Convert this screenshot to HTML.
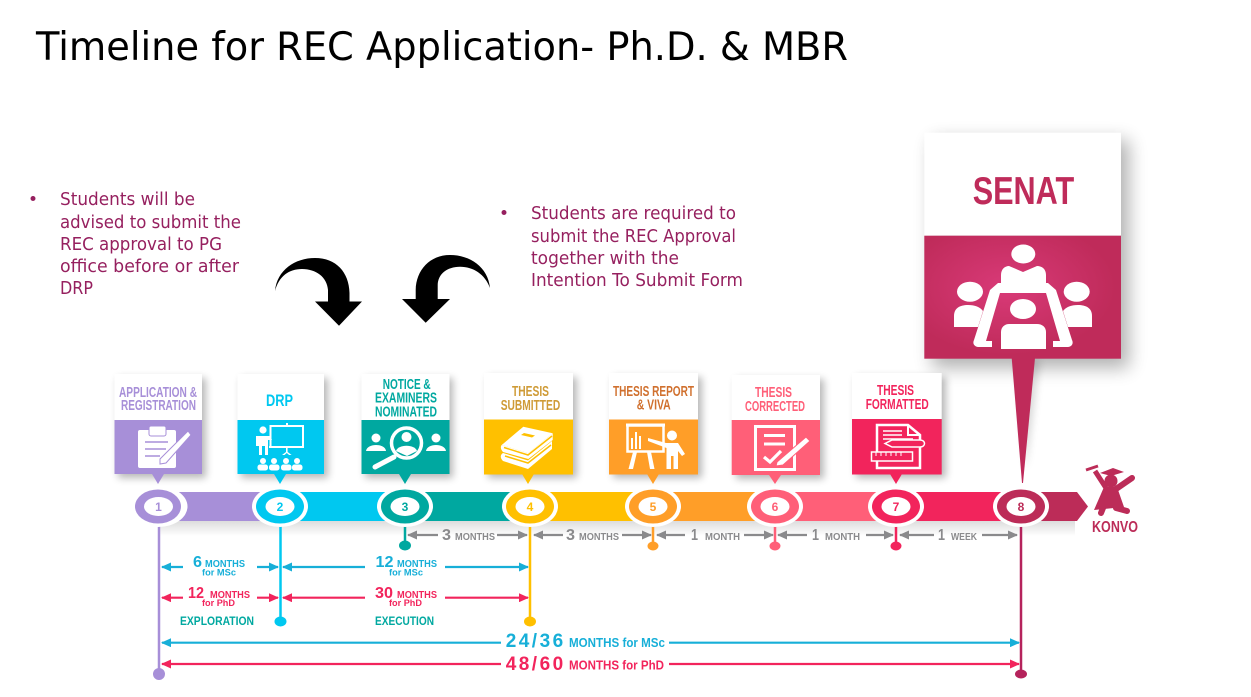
<!DOCTYPE html>
<html><head><meta charset="utf-8"><style>
html,body{margin:0;padding:0;background:#fff;width:1251px;height:697px;overflow:hidden}
svg{display:block}
text{font-family:"Liberation Sans",sans-serif}
text.d{font-family:"DejaVu Sans",sans-serif}
.c{font-weight:bold}
</style></head><body>
<svg width="1251" height="697" viewBox="0 0 1251 697" xmlns="http://www.w3.org/2000/svg">
<defs>
<filter id="sh" x="-30%" y="-30%" width="170%" height="170%"><feGaussianBlur stdDeviation="4"/></filter>
<filter id="shb" x="-30%" y="-30%" width="170%" height="170%"><feGaussianBlur stdDeviation="9"/></filter>
<linearGradient id="bs" x1="0" y1="0" x2="0" y2="1"><stop offset="0" stop-color="#ddd"/><stop offset="1" stop-color="#fff"/></linearGradient>
<radialGradient id="sg" cx="0.42" cy="0.42" r="0.55"><stop offset="0" stop-color="#d93a78"/><stop offset="1" stop-color="#bf2b5a"/></radialGradient>
<marker id="ag" markerWidth="10" markerHeight="9" refX="9" refY="4.5" orient="auto-start-reverse" markerUnits="userSpaceOnUse"><path d="M0 0L10 4.5L0 9Z" fill="#8a8a8c"/></marker>
<marker id="ab" markerWidth="10" markerHeight="9" refX="9" refY="4.5" orient="auto-start-reverse" markerUnits="userSpaceOnUse"><path d="M0 0L10 4.5L0 9Z" fill="#17afd8"/></marker>
<marker id="ar" markerWidth="10" markerHeight="9" refX="9" refY="4.5" orient="auto-start-reverse" markerUnits="userSpaceOnUse"><path d="M0 0L10 4.5L0 9Z" fill="#f2245c"/></marker>
</defs>

<!-- Title -->
<text class="d" x="36" y="60" font-size="39" fill="#000" textLength="812" lengthAdjust="spacingAndGlyphs">Timeline for REC Application- Ph.D. &amp; MBR</text>

<!-- Bullets -->
<g font-size="17.5" fill="#96205f">
<circle cx="33" cy="198.500" r="2.500" fill="#96205f"/>
<text class="d" x="60" y="205" textLength="135" lengthAdjust="spacingAndGlyphs">Students will be</text>
<text class="d" x="60" y="228" textLength="181" lengthAdjust="spacingAndGlyphs">advised to submit the</text>
<text class="d" x="60" y="250" textLength="162" lengthAdjust="spacingAndGlyphs">REC approval to PG</text>
<text class="d" x="60" y="272" textLength="179" lengthAdjust="spacingAndGlyphs">office before or after</text>
<text class="d" x="60" y="294" textLength="33" lengthAdjust="spacingAndGlyphs">DRP</text>
<circle cx="504" cy="212.500" r="2.500" fill="#96205f"/>
<text class="d" x="531" y="219" textLength="205" lengthAdjust="spacingAndGlyphs">Students are required to</text>
<text class="d" x="531" y="242" textLength="205" lengthAdjust="spacingAndGlyphs">submit the REC Approval</text>
<text class="d" x="531" y="264" textLength="148" lengthAdjust="spacingAndGlyphs">together with the</text>
<text class="d" x="531" y="286" textLength="212" lengthAdjust="spacingAndGlyphs">Intention To Submit Form</text>
</g>

<!-- Curved arrows -->
<path d="M275 291C277 270 295 258 315 258C336 258 349 272 349.500 293L349.500 301.500L362 301.500L339 325.700L315 301.500L328 301.500L328 290C327 277 316 269 302 269C289 269 279 276 275 291Z" fill="#000"/>
<path d="M490 288C488 267 470 255 450 255C430 255 416 270 415.700 290L415.700 299L402 299L425.700 322.700L450 299L437.700 299L437.700 285C438 274 447 266.700 460 266.700C473 266.700 485 274 490 288Z" fill="#000"/>

<!-- Band shadow -->
<rect x="160" y="521" width="915" height="15" fill="url(#bs)"/>

<!-- Band -->
<rect x="158" y="492" width="122" height="29" fill="#a78fd8"/>
<rect x="280" y="492" width="125" height="29" fill="#00c8f0"/>
<rect x="405" y="492" width="125" height="29" fill="#00a8a0"/>
<rect x="530" y="492" width="123" height="29" fill="#ffc000"/>
<rect x="653" y="492" width="122" height="29" fill="#ff9e28"/>
<rect x="775" y="492" width="121" height="29" fill="#ff5f78"/>
<rect x="896" y="492" width="125" height="29" fill="#f2245c"/>
<path d="M1021 492H1077L1088 506.500L1077 521H1021Z" fill="#bc2c58"/>

<!-- Card shadows -->
<g fill="#000" opacity="0.28" filter="url(#sh)">
<rect x="118" y="378" width="88" height="100"/>
<rect x="241" y="378" width="87" height="100"/>
<rect x="365" y="378" width="88" height="100"/>
<rect x="488" y="377" width="89" height="101"/>
<rect x="613" y="377" width="89" height="101"/>
<rect x="736" y="379" width="88" height="100"/>
<rect x="856" y="377" width="90" height="101"/>
</g>
<rect x="932" y="140" width="197" height="228" fill="#000" opacity="0.3" filter="url(#shb)"/>
<path d="M1016 360H1040L1026 470Z" fill="#000" opacity="0.15" filter="url(#sh)"/>

<!-- Cards -->
<g>
<rect x="114.500" y="374" width="87.500" height="46" fill="#fff"/><rect x="114.500" y="420" width="87.500" height="54" fill="#a78fd8"/><path d="M152 474H164L158 484Z" fill="#a78fd8"/>
<rect x="237.500" y="374" width="86.500" height="46" fill="#fff"/><rect x="237.500" y="420" width="86.500" height="54" fill="#00c8f0"/><path d="M274 474H286L280 484Z" fill="#00c8f0"/>
<rect x="361.500" y="374" width="88" height="46" fill="#fff"/><rect x="361.500" y="420" width="88" height="54" fill="#00a8a0"/><path d="M399 474H411L405 484Z" fill="#00a8a0"/>
<rect x="484" y="373" width="89" height="46.500" fill="#fff"/><rect x="484" y="419.500" width="89" height="55" fill="#ffc000"/><path d="M522 474H534L528 484Z" fill="#ffc000"/>
<rect x="609" y="373" width="89" height="46.500" fill="#fff"/><rect x="609" y="419.500" width="89" height="55" fill="#ff9e28"/><path d="M647 474H659L653 484Z" fill="#ff9e28"/>
<rect x="731.700" y="375" width="88.300" height="45" fill="#fff"/><rect x="731.700" y="420" width="88.300" height="55" fill="#ff5f78"/><path d="M769 475H781L775 484Z" fill="#ff5f78"/>
<rect x="852" y="373" width="89.700" height="46" fill="#fff"/><rect x="852" y="419" width="89.700" height="55.500" fill="#f2245c"/><path d="M890 474H902L896 484Z" fill="#f2245c"/>
<rect x="924.300" y="132.700" width="196.700" height="103" fill="#fff"/>
<rect x="924.300" y="235.700" width="196.700" height="123" fill="url(#sg)"/>
<path d="M1011.700 358H1035L1023 483H1022Z" fill="#bf2b5a"/>
</g>

<!-- Card labels -->
<g class="c" font-size="14.500">
<text class="c" x="119" y="397" fill="#a78fd8" textLength="78" lengthAdjust="spacingAndGlyphs">APPLICATION &amp;</text>
<text class="c" x="121" y="410" fill="#a78fd8" textLength="75" lengthAdjust="spacingAndGlyphs">REGISTRATION</text>
<text class="c" x="266" y="406" fill="#00c8f0" font-size="17" textLength="27" lengthAdjust="spacingAndGlyphs">DRP</text>
<text class="c" x="382.700" y="389" fill="#00a8a0" textLength="48" lengthAdjust="spacingAndGlyphs">NOTICE &amp;</text>
<text class="c" x="375" y="402.700" fill="#00a8a0" textLength="62" lengthAdjust="spacingAndGlyphs">EXAMINERS</text>
<text class="c" x="375" y="416.700" fill="#00a8a0" textLength="62" lengthAdjust="spacingAndGlyphs">NOMINATED</text>
<text class="c" x="512" y="396" fill="#cf9b37" textLength="37" lengthAdjust="spacingAndGlyphs">THESIS</text>
<text class="c" x="500.700" y="410" fill="#cf9b37" textLength="59.500" lengthAdjust="spacingAndGlyphs">SUBMITTED</text>
<text class="c" x="613" y="396" fill="#d0702e" textLength="81" lengthAdjust="spacingAndGlyphs">THESIS REPORT</text>
<text class="c" x="636.700" y="409.500" fill="#d0702e" textLength="34" lengthAdjust="spacingAndGlyphs">&amp; VIVA</text>
<text class="c" x="755" y="397" fill="#ff5f78" textLength="37" lengthAdjust="spacingAndGlyphs">THESIS</text>
<text class="c" x="745" y="411" fill="#ff5f78" textLength="60" lengthAdjust="spacingAndGlyphs">CORRECTED</text>
<text class="c" x="877" y="395" fill="#f2245c" textLength="37" lengthAdjust="spacingAndGlyphs">THESIS</text>
<text class="c" x="865.700" y="409" fill="#f2245c" textLength="63" lengthAdjust="spacingAndGlyphs">FORMATTED</text>
<text class="c" x="972.700" y="204" fill="#bf2b5a" font-size="39" textLength="101.500" lengthAdjust="spacingAndGlyphs">SENAT</text>
</g>

<!-- Icon 1 -->
<g>
<rect x="138" y="430" width="38" height="38" rx="2" fill="#fff"/>
<rect x="149" y="426" width="17" height="10" rx="2" fill="#fff" stroke="#a78fd8" stroke-width="1"/>
<g stroke="#a78fd8" stroke-width="1.600"><path d="M145 442H168M145 449H166M145 456H160"/></g>
<path d="M160 459L188 431L191 435L166 463L160 464Z" fill="#fff" stroke="#a78fd8" stroke-width="1"/>
</g>
<!-- Icon 2 -->
<g fill="#fff">
<circle cx="263" cy="430" r="3.600"/>
<path d="M256 436H270L272 440H268V455H265V446H262V455H259V446H256Z"/>
<rect x="270.500" y="426" width="32.500" height="21" fill="none" stroke="#fff" stroke-width="2"/>
<path d="M269 446H304V448H269ZM286 423h2v3h-2ZM286 447h1.600v5l4 3h-2.500l-2.300-2-2.300 2h-2.500l4-3Z"/>
<circle cx="263" cy="461" r="3"/><circle cx="274" cy="461" r="3"/><circle cx="286" cy="461" r="3"/><circle cx="297" cy="461" r="3"/>
<rect x="257.500" y="464.500" width="10.500" height="6" rx="2.500"/><rect x="269" y="464.500" width="10.500" height="6" rx="2.500"/><rect x="281" y="464.500" width="10.500" height="6" rx="2.500"/><rect x="292" y="464.500" width="10.500" height="6" rx="2.500"/>
</g>
<!-- Icon 3 -->
<g fill="#fff">
<circle cx="406.500" cy="443" r="15" fill="none" stroke="#fff" stroke-width="3.500"/>
<path d="M394 457L375 467" stroke="#fff" stroke-width="5" stroke-linecap="round"/>
<circle cx="406.500" cy="437" r="5"/><path d="M396 451C398 444 415 444 417 451L407 456Z"/>
<circle cx="376" cy="438" r="4.500"/><path d="M366 451C367 443 385 443 386 451Z"/>
<circle cx="436" cy="438" r="4.500"/><path d="M426 451C427 443 445 443 446 451Z"/>
</g>
<!-- Icon 4 -->
<g>
<path d="M523.300 426.700L552.700 433.300L528.300 453.300L501.700 445Z" fill="#fff"/>
<path d="M501.700 445L528.300 453.300L552.700 433.300V440L528.300 459L503 452C501 450 500 447 501.700 445Z" fill="#fff"/>
<path d="M504 447.500L528 455L552 436" stroke="#ffc000" stroke-width="1.500" fill="none"/>
<path d="M503 453L528 460.500L552 441V449L528 469L503 461C500 458 500 455 503 453Z" fill="#fff"/>
<path d="M505 456L528 463L551 445" stroke="#ffc000" stroke-width="1.500" fill="none"/>
<path d="M524 433L535 435.500L532 437.500L521 435Z" fill="#ffc000"/>
</g>
<!-- Icon 5 -->
<g fill="#fff">
<rect x="627.500" y="425.500" width="36" height="26" fill="none" stroke="#fff" stroke-width="2.500"/>
<rect x="626" y="423.500" width="39" height="3"/>
<rect x="631" y="438" width="2" height="11"/><rect x="635" y="432" width="2" height="17"/><rect x="639" y="436" width="2" height="13"/>
<path d="M633 452h4l-4 17h-4.500ZM651 452h-4l3 17h4.500Z"/>
<circle cx="672" cy="435.500" r="5"/>
<path d="M648 438L666 443H678L685 454L682 456L678 451V469H673.500V456H671V469H666.500V448L648 441Z"/>
</g>
<!-- Icon 6 -->
<g>
<rect x="755.500" y="426.500" width="39" height="43" fill="none" stroke="#fff" stroke-width="3"/>
<path d="M764 435.500H785M764 444H785" stroke="#fff" stroke-width="3"/>
<path d="M764 457L770 462L781 451" fill="none" stroke="#fff" stroke-width="3.200"/>
<path d="M777 462L806 437L810 441L783 465L776 466Z" fill="#fff" stroke="#ff5f78" stroke-width="1"/>
</g>
<!-- Icon 7 -->
<g>
<path d="M877 425H908L920 435V468H877Z" fill="none" stroke="#fff" stroke-width="2.500"/>
<path d="M908 425V435H920" fill="none" stroke="#fff" stroke-width="2"/>
<path d="M883 431H902M883 435H902M883 439H913" stroke="#fff" stroke-width="1.500"/>
<path d="M885 443.500L892 440H920C926 440 926 447 920 447H892Z" fill="#f2245c" stroke="#fff" stroke-width="1.500"/>
<rect x="871.500" y="452" width="41" height="9" fill="#f2245c" stroke="#fff" stroke-width="1.500"/>
<path d="M876 452V456M881 452V456M886 452V456M891 452V456M896 452V456M901 452V456" stroke="#fff" stroke-width="1"/>
</g>
<!-- Senat icon -->
<g fill="#fff">
<ellipse cx="1023.300" cy="254" rx="12" ry="9.500"/>
<path d="M1001 284V275C1001 269 1005 266 1009 266L1023 272L1037 266C1042 266 1046 269 1046 275V284Z"/>
<ellipse cx="970" cy="291.700" rx="13" ry="10"/>
<ellipse cx="1076.700" cy="291.700" rx="13" ry="10"/>
<path d="M954 327V316C954 308 960 305 968 305C975 305 980 307 983 311L978 327Z"/>
<path d="M1092 327V316C1092 308 1086 305 1078 305C1071 305 1066 307 1063 311L1068 327Z"/>
<path d="M998 283H1048L1056 290L1072 340C1074 344 1071 347 1068 347H1053V341H1060L1046 293H1000L986 341H992V347H979C975 347 972 344 974 340L990 290Z"/>
<ellipse cx="1023" cy="309" rx="13" ry="10"/>
<path d="M1001 349V332C1001 327 1005 324 1009 324H1037C1042 324 1046 327 1046 332V349Z"/>
</g>

<!-- Vertical drop lines -->
<g stroke-width="2.500" fill="none">
<line x1="159" y1="515" x2="159" y2="673" stroke="#a78fd8"/>
<line x1="280.500" y1="515" x2="280.500" y2="620" stroke="#00c8f0"/>
<line x1="405" y1="515" x2="405" y2="545" stroke="#00a8a0"/>
<line x1="530" y1="515" x2="530" y2="620" stroke="#ffc000"/>
<line x1="653" y1="515" x2="653" y2="546" stroke="#ff9e28"/>
<line x1="775" y1="515" x2="775" y2="546" stroke="#ff5f78"/>
<line x1="896" y1="515" x2="896" y2="546" stroke="#f2245c"/>
<line x1="1021" y1="515" x2="1021" y2="673" stroke="#b5235c"/>
</g>
<circle cx="159" cy="674" r="6" fill="#a78fd8"/>
<ellipse cx="280.500" cy="621.500" rx="6" ry="5" fill="#00c8f0"/>
<ellipse cx="405" cy="545.500" rx="6" ry="5" fill="#00a8a0"/>
<ellipse cx="530" cy="621.500" rx="6" ry="5" fill="#ffc000"/>
<ellipse cx="653" cy="546" rx="5.500" ry="4.500" fill="#ff9e28"/>
<ellipse cx="775" cy="546" rx="5.500" ry="4.500" fill="#ff5f78"/>
<ellipse cx="896" cy="546" rx="5.500" ry="4.500" fill="#f2245c"/>
<ellipse cx="1021" cy="674" rx="6" ry="4.500" fill="#b5235c"/>

<!-- Circles -->
<g>
<ellipse cx="158" cy="506.500" rx="29.500" ry="20.500" fill="#fff"/><ellipse cx="158" cy="506.500" rx="23" ry="17" fill="#a78fd8"/><ellipse cx="158.500" cy="506.500" rx="14.500" ry="9.500" fill="#fff"/>
<ellipse cx="280" cy="506.500" rx="28" ry="20.500" fill="#fff"/><ellipse cx="280" cy="506.500" rx="24" ry="17" fill="#00c8f0"/><ellipse cx="280" cy="506.500" rx="14.500" ry="9.500" fill="#fff"/>
<ellipse cx="405" cy="506.500" rx="28" ry="20.500" fill="#fff"/><ellipse cx="405" cy="506.500" rx="24" ry="17" fill="#00a8a0"/><ellipse cx="405" cy="506.500" rx="14.500" ry="9.500" fill="#fff"/>
<ellipse cx="530" cy="506.500" rx="28" ry="20.500" fill="#fff"/><ellipse cx="530" cy="506.500" rx="24" ry="17" fill="#ffc000"/><ellipse cx="530" cy="506.500" rx="14.500" ry="9.500" fill="#fff"/>
<ellipse cx="653" cy="506.500" rx="28" ry="20.500" fill="#fff"/><ellipse cx="653" cy="506.500" rx="24" ry="17" fill="#ff9e28"/><ellipse cx="653" cy="506.500" rx="14.500" ry="9.500" fill="#fff"/>
<ellipse cx="775" cy="506.500" rx="28" ry="20.500" fill="#fff"/><ellipse cx="775" cy="506.500" rx="24" ry="17" fill="#ff5f78"/><ellipse cx="775" cy="506.500" rx="14.500" ry="9.500" fill="#fff"/>
<ellipse cx="896" cy="506.500" rx="28" ry="20.500" fill="#fff"/><ellipse cx="896" cy="506.500" rx="24" ry="17" fill="#f2245c"/><ellipse cx="896" cy="506.500" rx="14.500" ry="9.500" fill="#fff"/>
<ellipse cx="1021" cy="506.500" rx="28" ry="20.500" fill="#fff"/><ellipse cx="1021" cy="506.500" rx="24" ry="17" fill="#bc2c58"/><ellipse cx="1021" cy="506.500" rx="14.500" ry="9.500" fill="#fff"/>
</g>
<g class="c" font-size="12" text-anchor="middle">
<text class="c" x="158.500" y="511" fill="#a78fd8">1</text>
<text class="c" x="280" y="511" fill="#00c8f0">2</text>
<text class="c" x="405" y="511" fill="#00a8a0">3</text>
<text class="c" x="530" y="511" fill="#ffc000">4</text>
<text class="c" x="653" y="511" fill="#ff9e28">5</text>
<text class="c" x="775" y="511" fill="#ff5f78">6</text>
<text class="c" x="896" y="511" fill="#f2245c">7</text>
<text class="c" x="1021" y="511" fill="#bc2c58">8</text>
</g>

<!-- Grey intervals -->
<g stroke="#8a8a8c" stroke-width="2.200" fill="none">
<line x1="438" y1="535" x2="408" y2="535" marker-end="url(#ag)"/>
<line x1="497" y1="535" x2="527" y2="535" marker-end="url(#ag)"/>
<line x1="563" y1="535" x2="534" y2="535" marker-end="url(#ag)"/>
<line x1="622" y1="535" x2="651" y2="535" marker-end="url(#ag)"/>
<line x1="685" y1="535" x2="657" y2="535" marker-end="url(#ag)"/>
<line x1="744" y1="535" x2="773" y2="535" marker-end="url(#ag)"/>
<line x1="807" y1="535" x2="778" y2="535" marker-end="url(#ag)"/>
<line x1="866" y1="535" x2="893" y2="535" marker-end="url(#ag)"/>
<line x1="934" y1="535" x2="900" y2="535" marker-end="url(#ag)"/>
<line x1="982" y1="535" x2="1017" y2="535" marker-end="url(#ag)"/>
</g>
<g fill="#8a8a8c">
<text class="c" x="442" y="540" font-size="16" textLength="9" lengthAdjust="spacingAndGlyphs">3</text>
<text class="c" x="455" y="540" font-size="10.500" textLength="40" lengthAdjust="spacingAndGlyphs">MONTHS</text>
<text class="c" x="566" y="540" font-size="16" textLength="9" lengthAdjust="spacingAndGlyphs">3</text>
<text class="c" x="579" y="540" font-size="10.500" textLength="40" lengthAdjust="spacingAndGlyphs">MONTHS</text>
<text class="c" x="691" y="540" font-size="16" textLength="7" lengthAdjust="spacingAndGlyphs">1</text>
<text class="c" x="705" y="540" font-size="10.500" textLength="35" lengthAdjust="spacingAndGlyphs">MONTH</text>
<text class="c" x="812" y="540" font-size="16" textLength="7" lengthAdjust="spacingAndGlyphs">1</text>
<text class="c" x="825" y="540" font-size="10.500" textLength="35" lengthAdjust="spacingAndGlyphs">MONTH</text>
<text class="c" x="938" y="540" font-size="16" textLength="7" lengthAdjust="spacingAndGlyphs">1</text>
<text class="c" x="951" y="540" font-size="10.500" textLength="26" lengthAdjust="spacingAndGlyphs">WEEK</text>
</g>

<!-- MSc / PhD rows -->
<g stroke="#17afd8" stroke-width="2.200" fill="none">
<line x1="183" y1="567" x2="162" y2="567" marker-end="url(#ab)"/>
<line x1="257" y1="567" x2="278" y2="567" marker-end="url(#ab)"/>
<line x1="365" y1="567" x2="283" y2="567" marker-end="url(#ab)"/>
<line x1="445" y1="567" x2="528" y2="567" marker-end="url(#ab)"/>
<line x1="501" y1="642.700" x2="162" y2="642.700" marker-end="url(#ab)"/>
<line x1="669" y1="642.700" x2="1019" y2="642.700" marker-end="url(#ab)"/>
</g>
<g stroke="#f2245c" stroke-width="2.200" fill="none">
<line x1="183" y1="597.700" x2="162" y2="597.700" marker-end="url(#ar)"/>
<line x1="257" y1="597.700" x2="278" y2="597.700" marker-end="url(#ar)"/>
<line x1="365" y1="597.700" x2="283" y2="597.700" marker-end="url(#ar)"/>
<line x1="445" y1="597.700" x2="528" y2="597.700" marker-end="url(#ar)"/>
<line x1="501" y1="664" x2="162" y2="664" marker-end="url(#ar)"/>
<line x1="669" y1="664" x2="1019" y2="664" marker-end="url(#ar)"/>
</g>
<g fill="#17afd8">
<text class="c" x="193" y="567" font-size="16" textLength="9" lengthAdjust="spacingAndGlyphs">6</text>
<text class="c" x="205" y="567" font-size="10.500" textLength="40" lengthAdjust="spacingAndGlyphs">MONTHS</text>
<text class="c" x="202" y="575.500" font-size="9.500" textLength="34" lengthAdjust="spacingAndGlyphs">for MSc</text>
<text class="c" x="375.500" y="567" font-size="16" textLength="18" lengthAdjust="spacingAndGlyphs">12</text>
<text class="c" x="397" y="567" font-size="10.500" textLength="40" lengthAdjust="spacingAndGlyphs">MONTHS</text>
<text class="c" x="389" y="575.500" font-size="9.500" textLength="34" lengthAdjust="spacingAndGlyphs">for MSc</text>
<text class="c" x="505.700" y="647" font-size="19" textLength="57.500" lengthAdjust="spacing">24/36</text>
<text class="c" x="569" y="647" font-size="12.500" textLength="96" lengthAdjust="spacingAndGlyphs">MONTHS for MSc</text>
</g>
<g fill="#f2245c">
<text class="c" x="188" y="598" font-size="16" textLength="16" lengthAdjust="spacingAndGlyphs">12</text>
<text class="c" x="210" y="598" font-size="10.500" textLength="40" lengthAdjust="spacingAndGlyphs">MONTHS</text>
<text class="c" x="202" y="606" font-size="9.500" textLength="33" lengthAdjust="spacingAndGlyphs">for PhD</text>
<text class="c" x="375" y="598" font-size="16" textLength="18" lengthAdjust="spacingAndGlyphs">30</text>
<text class="c" x="397" y="598" font-size="10.500" textLength="40" lengthAdjust="spacingAndGlyphs">MONTHS</text>
<text class="c" x="389" y="606" font-size="9.500" textLength="33" lengthAdjust="spacingAndGlyphs">for PhD</text>
<text class="c" x="505.700" y="670" font-size="19" textLength="57.500" lengthAdjust="spacing">48/60</text>
<text class="c" x="569" y="669.500" font-size="12.500" textLength="95" lengthAdjust="spacingAndGlyphs">MONTHS for PhD</text>
</g>
<g fill="#00a8a0">
<text class="c" x="180" y="625" font-size="12" textLength="74" lengthAdjust="spacingAndGlyphs">EXPLORATION</text>
<text class="c" x="375" y="625" font-size="12" textLength="59" lengthAdjust="spacingAndGlyphs">EXECUTION</text>
</g>

<!-- KONVO mascot -->
<g fill="#bc2c58">
<path d="M1086 470L1098 466" stroke="#bc2c58" stroke-width="3" fill="none"/>
<path d="M1106 488L1095 471" stroke="#bc2c58" stroke-width="5" fill="none"/>
<path d="M1116 489L1132 478" stroke="#bc2c58" stroke-width="6" stroke-linecap="round" fill="none"/>
<circle cx="1111" cy="481" r="6.500"/>
<path d="M1100 473L1113 468L1124 472L1111 476Z"/>
<path d="M1104 487H1117L1124 507L1094 510Z"/>
<path d="M1103 508L1101 513M1116 508L1127 511" stroke="#bc2c58" stroke-width="6" stroke-linecap="round" fill="none"/>
<text class="c" x="1092" y="532" font-size="15.500" textLength="46" lengthAdjust="spacingAndGlyphs">KONVO</text>
</g>
</svg>
</body></html>
